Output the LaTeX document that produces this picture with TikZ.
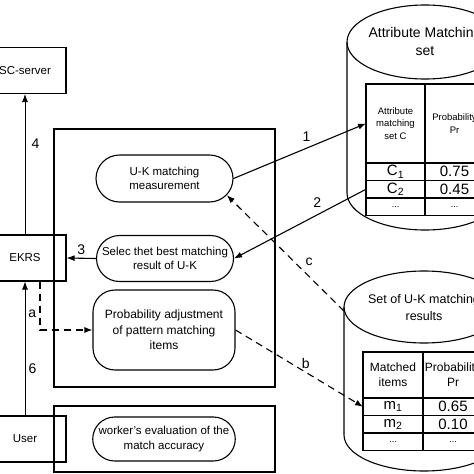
\documentclass[tikz,border=0pt]{standalone}
\usepackage{fontspec}
\setmainfont{Liberation Sans}
\usetikzlibrary{arrows.meta,positioning,shapes.misc}

\begin{document}
\begin{tikzpicture}[x=1pt,y=-1pt,line width=1.1pt,>={Latex[length=8pt,width=6pt]},
	every node/.style={font=\fontsize{11.5}{14.5}\selectfont},
	side/.style={draw,rectangle,minimum width=82pt,minimum height=46pt},
	proc/.style={draw,rounded rectangle,minimum width=141pt,minimum height=46pt,align=center,inner sep=2pt},
	num/.style={font=\fontsize{14}{16}\selectfont},
	dashline/.style={dash pattern=on 7pt off 5pt},
	title/.style={align=center,font=\fontsize{14}{18}\selectfont},
	cell/.style={draw,outer sep=0pt,inner sep=0pt,minimum height=17.5pt,font=\fontsize{15}{17}\selectfont}]
	\useasboundingbox (0,0) rectangle (474,474);

	% frames of the two process groups
	\draw (54,129) rectangle (275,387);
	\draw (54,406) rectangle (275,472);

	% left column
	\node[side]	(sc)	at (25,70.5)	{SC-server};
	\node[side]	(ekrs)	at (25,258)	{EKRS};
	\node[side]	(user)	at (25,439)	{User};

	% processes
	\node[proc,minimum height=47pt]	(uk)	at (164.5,178.5)	{U-K matching\\measurement};
	\node[proc]			(sel)	at (165,258.5)	{Selec thet best matching\\result of U-K};
	\node[draw,rounded corners=22pt,minimum width=142pt,minimum height=80pt,align=center,font=\fontsize{12}{15.5}\selectfont]
					(prob)	at (164,330)	{Probability adjustment\\of pattern matching\\items};
	\node[proc,minimum height=44pt]	(work)	at (164,439)	{worker's evaluation of the\\match accuracy};

	% attribute matching set
	\draw (347,42) -- (347,193) arc[start angle=180,end angle=0,x radius=78,y radius=37] -- (503,42);
	\draw (425,42) ellipse [x radius=78,y radius=37];
	\node[title]	(amset)	at (425,41)	{Attribute Matching\\set};
	\node[cell,minimum width=59pt,minimum height=79pt,align=center,font=\fontsize{9.5}{12.5}\selectfont]
			(ah1)	at (395.5,123.5)	{Attribute\\matching\\set C};
	\node[cell,minimum width=59pt,minimum height=79pt,align=center,font=\fontsize{9.5}{12.5}\selectfont]
			(ah2)	[right=0pt of ah1]	{Probability\\Pr};
	\node[cell,minimum width=59pt]	(ac1)	[below=0pt of ah1]	{C\textsubscript{1}};
	\node[cell,minimum width=59pt]	(ap1)	[right=0pt of ac1]	{0.75};
	\node[cell,minimum width=59pt]	(ac2)	[below=0pt of ac1]	{C\textsubscript{2}};
	\node[cell,minimum width=59pt]	(ap2)	[right=0pt of ac2]	{0.45};
	\node[cell,minimum width=59pt,font=\fontsize{9}{10}\selectfont]	(ac3)	[below=0pt of ac2]	{...};
	\node[cell,minimum width=59pt,font=\fontsize{9}{10}\selectfont]	(ap3)	[right=0pt of ac3]	{...};

	% set of U-K matching results
	\draw (344,307) -- (344,435) arc[start angle=180,end angle=0,x radius=80,y radius=36] -- (504,307);
	\draw (424,307) ellipse [x radius=80,y radius=36];
	\coordinate	(cyl2)	at (344,311);
	\node[title,font=\fontsize{12.5}{17}\selectfont]	(urset)	at (424,308)	{Set of U-K matching\\results};
	\node[cell,minimum width=60pt,minimum height=46pt,align=center,font=\fontsize{12}{15}\selectfont]
			(bh1)	at (393,375)	{Matched\\items};
	\node[cell,minimum width=60pt,minimum height=46pt,align=center,font=\fontsize{12}{15}\selectfont]
			(bh2)	[right=0pt of bh1]	{Probability\\Pr};
	\node[cell,minimum width=60pt]	(bm1)	[below=0pt of bh1]	{m\textsubscript{1}};
	\node[cell,minimum width=60pt]	(bp1)	[right=0pt of bm1]	{0.65};
	\node[cell,minimum width=60pt]	(bm2)	[below=0pt of bm1]	{m\textsubscript{2}};
	\node[cell,minimum width=60pt]	(bp2)	[right=0pt of bm2]	{0.10};
	\node[cell,minimum width=60pt,font=\fontsize{9}{10}\selectfont]	(bm3)	[below=0pt of bm2]	{...};
	\node[cell,minimum width=60pt,font=\fontsize{9}{10}\selectfont]	(bp3)	[right=0pt of bm3]	{...};

	% flows
	\path[->]	(uk.east)	edge node[num,above=3pt,pos=0.55]	{1}	(ah1.west)
			(ac2.west)	edge node[num,above=3pt,pos=0.37]	{2}	(sel.east)
			(sel.west)	edge node[num,above]		{3}	(ekrs.east);
	\path[->,line width=0.8pt]
			(ekrs.north)	edge node[num,right=3pt,pos=0.65]	{4}	(sc.south)
			(user.north)	edge node[num,right,pos=0.35]	{6}	(ekrs.south);
	\draw[->,dashline] ([xshift=15pt]ekrs.south) |- node[num,left,pos=0.33] {a} (prob.west);
	\draw[->,dashline] (prob.east) -- node[num,above,pos=0.55] {b} (bm1.west);
	\draw[->,dashline] (cyl2) -- node[num,above right,pos=0.36] {c} (uk.-15);
\end{tikzpicture}
\end{document}
